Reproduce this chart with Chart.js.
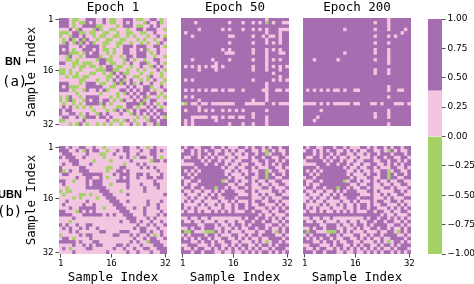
<!DOCTYPE html>
<html>
<head>
<meta charset="utf-8">
<script src="https://cdn.jsdelivr.net/npm/chart.js@4.4.1/dist/chart.umd.min.js"></script>
<style>
  body { margin: 0; width: 474px; height: 284px; background: #fff; position: relative; overflow: hidden; }
  canvas { position: absolute; }
  .side { position: absolute; color: #000; white-space: nowrap; line-height: 1; }
</style>
</head>
<body>
<div id="charts"></div>
<div class="side" style="left:5px;top:55px;font:bold 11px 'Liberation Sans'">BN</div>
<div class="side" style="left:2px;top:73px;font:14px 'DejaVu Sans Mono'">(a)</div>
<div class="side" style="left:-2px;top:188px;font:bold 11px 'Liberation Sans'">UBN</div>
<div class="side" style="left:-3px;top:203px;font:14px 'DejaVu Sans Mono'">(b)</div>
<script>
// similarity matrices, upper triangle only (P = 1, . = 0, g = -1), mirrored below
const bnEpoch1 = [
  "-PP.gg.. PPP..P.g g..PPP.g g..PP.g.",
  "--P.g.gg P.P..P.g g..P.P.. .gP..Pg.",
  "---.g..P PPPgg... .g.PPP.g g..P.P..",
  "----.gP. ..gPg..g g...g..P P.PPP..g",
  "-----Pgg .gg..gg. .g..gg.. gg..P...",
  "------.P ..g.gg.. gg..g.g. ..g..P.g",
  "-------g P..g..gg ..gg...g .g..g..P",
  "-------- .Pg..gg. .gg..g.. g.g..gP.",
  "-------- -PPP.g.. .g.PPP.P PP..PP.g",
  "-------- --.P.gg. g..PP..P .Pg..P..",
  "-------- ---P..g. g..PP..P PP.g.P..",
  "-------- ----g..g ..g.PP.P PP..g..g",
  "-------- -----Pgg ...gP.g. .g..PP..",
  "-------- ------.g g..g.P.. PPg..P.g",
  "-------- -------P .gg..g.. P..gP.P.",
  "-------- -------- gg..g..g .g...P.g",
  "-------- -------- -.Pgg... g..g..g.",
  "-------- -------- --.P..gg ..gP..g.",
  "-------- -------- ---g.P.. g.g.P..g",
  "-------- -------- ----.Pg. P..P..g.",
  "-------- -------- -----.P. .PPg..P.",
  "-------- -------- ------.P .PP.g..P",
  "-------- -------- -------. PP.PP.g.",
  "-------- -------- -------- .Pg..g.g",
  "-------- -------- -------- -g.PP...",
  "-------- -------- -------- --.P.g.P",
  "-------- -------- -------- ---.P.g.",
  "-------- -------- -------- ----.PP.",
  "-------- -------- -------- -----.PP",
  "-------- -------- -------- ------.g",
  "-------- -------- -------- -------P",
  "-------- -------- -------- --------"
];
const bnEpoch50 = [
  "-PPPPPPP PPPPPPPP PPPPPPPP P.PPPPPP",
  "--PP.PPP PPPPPP.P PP.PP.P. PgP.PP..",
  "---PPPPP PPPPPPPP PPPPPPPP PPPPPPPP",
  "----P.PP PPPP.P.P PP.PP.P. P.PPP...",
  "-----PPP PPPPPPPP PPPPPPPP P.PPP.PP",
  "------PP PPPPPP.. PPPPP.PP .P..P.PP",
  "-------P PPPPPPPP PPPPPPPP P.PPP.PP",
  "-------- PPPPPP.P PPPPP.PP P.P.P.PP",
  "-------- -PPPPPPP PPPPPPPP PPPPPPPP",
  "-------- --PP.P.P PPPPP.PP P.P.P.PP",
  "-------- ---PP... PPPPP.PP P.PPP..P",
  "-------- ----PPPP PPPPPPPP P.PPPPPP",
  "-------- -----P.P PPPPP.PP P.P.P.PP",
  "-------- ------PP PPPPPPPP P.PPPPPP",
  "-------- -------P PPPPP.PP P.P.P.P.",
  "-------- -------- PPPPP.PP P.PPP.PP",
  "-------- -------- -PPPPPPP PPP.PPPP",
  "-------- -------- --PPPPPP PPPPP.PP",
  "-------- -------- ---PP.PP PPP.P.P.",
  "-------- -------- ----PPPP P.PPPPPP",
  "-------- -------- -----PPP P.PPPPPP",
  "-------- -------- ------PP ..PP..P.",
  "-------- -------- -------P P.PPPPPP",
  "-------- -------- -------- P.PPPPPP",
  "-------- -------- -------- -.PPPPPP",
  "-------- -------- -------- --P.P...",
  "-------- -------- -------- ---PPPPP",
  "-------- -------- -------- ----PPPP",
  "-------- -------- -------- -----PPP",
  "-------- -------- -------- ------PP",
  "-------- -------- -------- -------P",
  "-------- -------- -------- --------"
];
const bnEpoch200 = [
  "-PPPPPPP PPPPPPPP PPPPPPPP P.PPPPPP",
  "--PPPPPP PPPPPPPP PPPPP.PP P.PPPPPP",
  "---PPPPP PPPPPPPP PPPPPPPP P.PPPPPP",
  "----PPPP PPPP.PPP PPPPP.PP P.PPPP.P",
  "-----PPP PPPPPPPP PPPPPPPP PPPPP.PP",
  "------PP PPPPPPPP PPPPP.PP P.P.PPPP",
  "-------P PPPPPPPP PPPPPPPP PPPPPPPP",
  "-------- PPPPPPPP PPPPP.PP P.PPPPPP",
  "-------- -PPPPPPP PPPPPPPP PPPPPPPP",
  "-------- --PPPPPP PPPPP.PP P.PPPPPP",
  "-------- ---P.PPP PPPPP.PP P.PPPPPP",
  "-------- ----PPPP PPPPPPPP P.PPPPPP",
  "-------- -----PPP PPPPP.PP P.PPPPPP",
  "-------- ------PP PPPPPPPP P.PPPPPP",
  "-------- -------P PPPPPPPP PPPPPPPP",
  "-------- -------- PPPPP.PP P.PPPPPP",
  "-------- -------- -PPPP.PP P.PPPPPP",
  "-------- -------- --PPPPPP PPPPPPPP",
  "-------- -------- ---PPPPP PPPPPPPP",
  "-------- -------- ----PPPP PPPPPPPP",
  "-------- -------- -----PPP P.PPPPPP",
  "-------- -------- ------PP P.PP..PP",
  "-------- -------- -------P PPPPPPPP",
  "-------- -------- -------- P.PPPPPP",
  "-------- -------- -------- -PPPPPPP",
  "-------- -------- -------- --P...P.",
  "-------- -------- -------- ---PPPPP",
  "-------- -------- -------- ----PPPP",
  "-------- -------- -------- -----PPP",
  "-------- -------- -------- ------PP",
  "-------- -------- -------- -------P",
  "-------- -------- -------- --------"
];
const ubnEpoch1 = [
  "-P.P..PP ..P..g.. ...PP..P ..g.P...",
  "--P..P.g P.PP..g. .P.PP... P..PP.P.",
  "---P.... P...gg.. P...P..P ...PP...",
  "----P..P .....g.. ..P.P.g. PP..P.g.",
  "-----P.. ..g....g .....P.. ...gPP.P",
  "------.. .P...... ...g...P .P......",
  "-------P ......gg ..PP.... P.P.P...",
  "-------- P.....g. .PP.P... .....P..",
  "-------- -PPPP... P.PPP..P P.P...P.",
  "-------- --..P.g. ..P.P..P ..PP.PP.",
  "-------- ---PP... .PPPP... ....P...",
  "-------- ----P..g ....P... P...PP..",
  "-------- -----P.. ....P... .P...P..",
  "-------- ------P. ..g..... .P......",
  "-------- -------P ....P... .......P",
  "-------- -------- P....... ........",
  "-------- -------- -P..P... ..P...P.",
  "-------- -------- --P..... ..P..P..",
  "-------- -------- ---P..P. .P...P..",
  "-------- -------- ----P... .P....P.",
  "-------- -------- -----P.. .P...P.P",
  "-------- -------- ------P. ..P.P...",
  "-------- -------- -------. P..P..P.",
  "-------- -------- -------- ..P.P..P",
  "-------- -------- -------- -P...P..",
  "-------- -------- -------- --.P..P.",
  "-------- -------- -------- ---.g.P.",
  "-------- -------- -------- ----P..P",
  "-------- -------- -------- -----P..",
  "-------- -------- -------- ------P.",
  "-------- -------- -------- -------P",
  "-------- -------- -------- --------"
];
const ubnEpoch50 = [
  "-.PP..PP P.PP.P.. .PP.P.PP .P.PP.PP",
  "--P.P.P. PP..P.P. P..PP..P .gP.P..P",
  "---.P.PP .P.PP..P ..P.PP.P Pg.PPP.P",
  "----P.P. P.P..P.. P...P.PP .PP..PP.",
  "-----P.P .PP.P..P ..PPP..P P.PP.P.P",
  "------P. PP.PP.P. .P..PP.. P.P.P.PP",
  "-------P PPPP.P.. P..PP.P. ..PP..P.",
  "-------- PPPPP..P .P..P..P Pg.PP..P",
  "-------- -PPPP.P. ..P.PP.P PgP.PP.P",
  "-------- --PPPP.P ...PP..P PgPP..PP",
  "-------- ---Pg.PP .P..P.P. .P..PP..",
  "-------- ----PP.. P..PP..P ..P..PP.",
  "-------- -----.P. .PP.P... PP.P...P",
  "-------- ------PP ...PP.P. ...PP.P.",
  "-------- -------P P...P..P .P..PP..",
  "-------- -------- .PPPP... P.P...PP",
  "-------- -------- -...P.PP ..PP.P..",
  "-------- -------- --P.P..P P...P.P.",
  "-------- -------- ---.PP.. .P.P.P.P",
  "-------- -------- ----P.PP ..P..PP.",
  "-------- -------- -----PP. P..P...P",
  "-------- -------- ------.P P.P.P.P.",
  "-------- -------- -------P .PP..P.P",
  "-------- -------- -------- P..PP.P.",
  "-------- -------- -------- -.P..P.P",
  "-------- -------- -------- --P.gP.P",
  "-------- -------- -------- ---P..P.",
  "-------- -------- -------- ----PP.P",
  "-------- -------- -------- -----.P.",
  "-------- -------- -------- ------PP",
  "-------- -------- -------- -------.",
  "-------- -------- -------- --------"
];
const ubnEpoch200 = [
  "-.PP..PP P.PP.P.. .PP.P.PP .P.PP.PP",
  "--P.P.P. PP..P.P. P..PP..P .gP.P..P",
  "---.P.PP .P.PP..P ..P.PP.P PP.PPP.P",
  "----P.P. P.P..P.. P...P.PP .PP..PP.",
  "-----P.P .PP.P..P ..PPP..P P.PP.P.P",
  "------P. PP.PP.P. .P..PP.. P.P.P.PP",
  "-------P PPPP.P.. P..PP.P. ..PP..P.",
  "-------- PPPPP..P .P..P..P Pg.PP..P",
  "-------- -PPPP.P. ..P.PP.P PgP.PP.P",
  "-------- --PPPP.P ...PP..P PgPP..PP",
  "-------- ---Pg.PP .P..P.P. .P..PP..",
  "-------- ----PP.. P..PP..P ..P..PP.",
  "-------- -----.P. .PP.P... PP.P...P",
  "-------- ------PP ...PP.P. ...PP.P.",
  "-------- -------P P...P..P .P..PP..",
  "-------- -------- .PPPP... P.P...PP",
  "-------- -------- -...P.PP ..PP.P..",
  "-------- -------- --P.P..P P...P.P.",
  "-------- -------- ---.PP.. .P.P.P.P",
  "-------- -------- ----P.PP ..P..PP.",
  "-------- -------- -----PP. P..P...P",
  "-------- -------- ------.P P.P.P.P.",
  "-------- -------- -------P .PP..P.P",
  "-------- -------- -------- P..PP.P.",
  "-------- -------- -------- -.P..P.P",
  "-------- -------- -------- --P.gP.P",
  "-------- -------- -------- ---P..P.",
  "-------- -------- -------- ----PP.P",
  "-------- -------- -------- -----.P.",
  "-------- -------- -------- ------PP",
  "-------- -------- -------- -------.",
  "-------- -------- -------- --------"
];

const epochTitles = ['Epoch 1', 'Epoch 50', 'Epoch 200'];
const sampleTicks = [1, 16, 32];
const cbarTicks = [-1, -0.75, -0.5, -0.25, 0, 0.25, 0.5, 0.75, 1];
const cbarBands = [-1, 0, 0.39, 1]; // green | pink | purple

const PURPLE = '#a66db0', PINK = '#f2c5e1', GREEN = '#a5d266';
const charValue = { 'P': 1, '.': 0, 'g': -1 };
const mono = "'DejaVu Sans Mono'";

function valueColor(v) {
    if (v > 0.5) return PURPLE;
    if (v < -0.5) return GREEN;
    return PINK;
}

function readMatrix(rows) {
    const clean = rows.map(r => r.replace(/ /g, ''));
    const m = [];
    for (let r = 0; r < 32; r++) {
        m.push([]);
        for (let c = 0; c < 32; c++) {
            if (r === c) { m[r].push(1); continue; }
            const i = Math.min(r, c), j = Math.max(r, c);
            const ch = clean[i][j];
            m[r].push(ch in charValue ? charValue[ch] : 1);
        }
    }
    return m;
}

const panels = [
    { rows: bnEpoch1, col: 0, row: 0 },
    { rows: bnEpoch50, col: 1, row: 0 },
    { rows: bnEpoch200, col: 2, row: 0 },
    { rows: ubnEpoch1, col: 0, row: 1 },
    { rows: ubnEpoch50, col: 1, row: 1 },
    { rows: ubnEpoch200, col: 2, row: 1 },
];
const panelLeft = [59, 181, 303];
const panelTop = [18, 146];
const SIZE = 108;
const holder = document.getElementById('charts');

function addCanvas(left, top, width, height) {
    const cv = document.createElement('canvas');
    cv.width = width; cv.height = height;
    cv.style.left = left + 'px'; cv.style.top = top + 'px';
    cv.style.width = width + 'px'; cv.style.height = height + 'px';
    holder.appendChild(cv);
    return cv.getContext('2d');
}

function makePanel(p) {
    const showY = p.col === 0, showX = p.row === 1, showTitle = p.row === 0;
    const yAxisW = showY ? 59 : 0;
    const padL = showY ? 0 : 10, padR = 10;
    const left = panelLeft[p.col] - yAxisW - padL;
    const width = yAxisW + padL + SIZE + padR;
    let top, height, padT, padB;
    if (p.row === 0) { top = 0; padT = 0; padB = 8; height = 18 + SIZE + padB; }
    else { top = panelTop[1] - 8; padT = 8; padB = 0; height = 8 + SIZE + 30; }

    const m = readMatrix(p.rows);
    const points = [], colors = [];
    for (let r = 0; r < 32; r++) {
        for (let c = 0; c < 32; c++) {
            points.push({ x: c + 1, y: [r + 0.5, r + 1.5] });
            colors.push(valueColor(m[r][c]));
        }
    }
    const tickFont = { family: mono, size: 9 };
    const titleFont = { family: mono, size: 12.5, lineHeight: 1.2, weight: 'normal' };

    new Chart(addCanvas(left, top, width, height), {
        type: 'bar',
        data: {
            datasets: [{
                data: points,
                backgroundColor: colors,
                borderWidth: 0,
                barPercentage: 1,
                categoryPercentage: 1,
            }],
        },
        options: {
            responsive: false,
            animation: false,
            layout: { padding: { left: padL, right: padR, top: padT, bottom: padB } },
            plugins: {
                legend: { display: false },
                tooltip: { enabled: false },
                title: {
                    display: showTitle,
                    text: epochTitles[p.col],
                    fullSize: false,
                    color: '#000',
                    font: titleFont,
                    padding: { top: 0, bottom: 3 },
                },
            },
            scales: {
                x: {
                    type: 'linear', min: 0.5, max: 32.5, offset: false,
                    display: showX,
                    afterBuildTicks: s => { s.ticks = sampleTicks.map(v => ({ value: v })); },
                    afterFit: s => { if (showX) s.height = 30; },
                    ticks: { font: tickFont, color: '#000', padding: 1, autoSkip: false, maxRotation: 0 },
                    grid: { offset: false, drawOnChartArea: false, tickLength: 3.5, color: '#222', tickWidth: 0.8 },
                    border: { display: false },
                    title: { display: true, text: 'Sample Index', color: '#000',
                        font: { family: mono, size: 12.5, lineHeight: 1 }, padding: { top: 0, bottom: 0 } },
                },
                y: {
                    type: 'linear', min: 0.5, max: 32.5, reverse: true,
                    display: showY,
                    afterBuildTicks: s => { s.ticks = sampleTicks.map(v => ({ value: v })); },
                    afterFit: s => { if (showY) s.width = 59; },
                    ticks: { font: tickFont, color: '#000', padding: 2, autoSkip: false },
                    grid: { drawOnChartArea: false, tickLength: 3.5, color: '#222', tickWidth: 0.8 },
                    border: { display: false },
                    title: { display: true, text: 'Sample Index', color: '#000',
                        font: titleFont, padding: { top: 24, bottom: 0 } },
                },
            },
        },
    });
}

panels.forEach(makePanel);

// colorbar
const cbarColors = [GREEN, PINK, PURPLE];
new Chart(addCanvas(420, 10, 54, 254), {
    type: 'bar',
    data: {
        labels: [''],
        datasets: cbarColors.map((col, k) => ({
            data: [[cbarBands[k], cbarBands[k + 1]]],
            backgroundColor: col,
            borderWidth: 0,
            grouped: false,
            barPercentage: 1,
            categoryPercentage: 1,
        })),
    },
    options: {
        responsive: false,
        animation: false,
        layout: { padding: { left: 8, right: 0, top: 9, bottom: 10 } },
        plugins: { legend: { display: false }, tooltip: { enabled: false } },
        scales: {
            x: { display: false },
            y: {
                position: 'right', min: -1, max: 1,
                afterBuildTicks: s => { s.ticks = cbarTicks.map(v => ({ value: v })); },
                afterFit: s => { s.width = 32; },
                ticks: {
                    font: { family: "'DejaVu Sans'", size: 9 }, color: '#000', padding: 2,
                    callback: v => v.toFixed(2).replace('-', '\u2212'),
                },
                grid: { drawOnChartArea: false, tickLength: 3.5, color: '#222', tickWidth: 0.8 },
                border: { display: false },
            },
        },
    },
});
</script>
</body>
</html>
